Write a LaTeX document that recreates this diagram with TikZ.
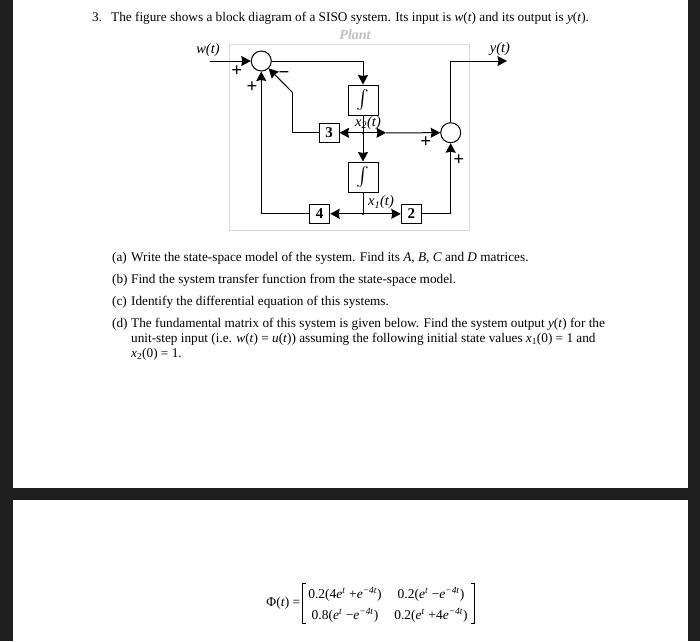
\documentclass[tikz,border=0pt]{standalone}
\usepackage{amsmath, amssymb}
\usepackage{fontspec}
\setmainfont{Liberation Serif}
\usepackage{tikz}
\usetikzlibrary{calc, arrows.meta, positioning}

\newcommand{\partlabel}[1]{\makebox[19pt][l]{#1}}
\newcommand{\ee}[1]{\textit{e}\textsuperscript{\textit{#1}}}

\tikzset{
    sumnode/.style={draw, circle, line width=1pt, minimum size=20pt, inner sep=0pt},
    gainbox/.style={draw, line width=1pt, fill=white, minimum width=20pt, minimum height=19pt, inner sep=0pt, font=\fontsize{15}{15}\selectfont\bfseries},
    intbox/.style={draw, line width=1pt, fill=white, minimum width=30pt, minimum height=30pt, inner sep=0pt},
    sigmark/.style={font=\fontsize{19}{19}\selectfont\bfseries, inner sep=0pt},
    siglabel/.style={font=\fontsize{14.5}{14.5}\selectfont\itshape, inner sep=0pt},
    bodyline/.style={anchor=base west, inner sep=0pt, font=\fontsize{13.25}{14}\selectfont},
    matentry/.style={inner sep=0pt, font=\fontsize{13.5}{14}\selectfont},
    flow/.style={line width=1pt, -{Stealth[length=9.5pt, width=10pt, inset=1pt]}},
    wire/.style={line width=1pt}
}

\begin{document}
\begin{tikzpicture}[x=1pt, y=-1pt]

    % =================================================================
    % 1. PAGE AND BLACK BANDS
    % =================================================================
    \useasboundingbox (0,0) rectangle (700,641);
    \fill[black!88] (0,0) rectangle (13,641);
    \fill[black!88] (688,0) rectangle (700,641);
    \fill[black!88] (0,488) rectangle (700,500);

    % =================================================================
    % 2. QUESTION TEXT
    % =================================================================
    \node[bodyline] (qnum) at (92,21) {3.};
    \node[bodyline] (qtext) at (111,21) {The figure shows a block diagram of a SISO system. Its input is \textit{w}(\textit{t}) and its output is \textit{y}(\textit{t}).};

    \node[bodyline] (parta) at (112,261) {\partlabel{(a)}Write the state-space model of the system. Find its \textit{A}, \textit{B}, \textit{C} and \textit{D} matrices.};
    \node[bodyline] (partb) at (112,283) {\partlabel{(b)}Find the system transfer function from the state-space model.};
    \node[bodyline] (partc) at (112,305) {\partlabel{(c)}Identify the differential equation of this systems.};
    \node[bodyline] (partd) at (112,327) {\partlabel{(d)}The fundamental matrix of this system is given below. Find the system output \textit{y}(\textit{t}) for the};
    \node[bodyline] (partdb) at (131,342) {unit-step input (i.e. \textit{w}(\textit{t}) = \textit{u}(\textit{t})) assuming the following initial state values \textit{x}\textsubscript{1}(0) = 1 and};
    \node[bodyline] (partdc) at (131,357) {\textit{x}\textsubscript{2}(0) = 1.};

    % =================================================================
    % 3. PLANT FRAME
    % =================================================================
    \draw[black!15] (228.7,44.3) rectangle (469.3,230);
    \node[font=\fontsize{14}{14}\selectfont\itshape\bfseries, text=black!25, inner sep=0pt] (plant) at (355,35) {Plant};

    % =================================================================
    % 4. BLOCKS
    % =================================================================
    \node[sumnode] (sumin) at (261.3,61) {};
    \node[sumnode] (sumout) at (450.7,132.7) {};
    \node[intbox] (intb) at (363,100) {\scalebox{1.9}{$\int$}};
    \node[intbox] (inta) at (363,177) {\scalebox{1.9}{$\int$}};
    \node[gainbox] (gainc) at (329,132.8) {3};
    \node[gainbox] (gaind) at (319.7,213.8) {4};
    \node[gainbox] (gainb) at (411.3,213.8) {2};

    % Junctions and free ends
    \coordinate (wstart) at (210,61);
    \coordinate (yend) at (507,61);
    \coordinate (ycorner) at (450.7,61);
    \coordinate (jtop) at (363,132.8);
    \coordinate (jbot) at (363,213.8);
    \coordinate (jright) at (386,132.8);
    \coordinate (fbcorner) at (292.7,132.8);
    \coordinate (fbbend) at (292.7,92.7);

    % =================================================================
    % 5. CONNECTORS
    % =================================================================
    \draw[flow] (wstart) -- (sumin);
    \draw[flow] (sumin) -| (intb);
    \draw[wire] (intb) -- (jtop);
    \draw[flow] (jtop) -- (gainc);
    \draw[flow] (jtop) -- (jright);
    \draw[flow] (jright) -- (sumout);
    \draw[flow] (jtop) -- (inta);
    \draw[wire] (inta) -- (jbot);
    \draw[flow] (jbot) -- (gaind);
    \draw[flow] (jbot) -- (gainb);
    \draw[wire] (gainc) -- (fbcorner) -- (fbbend);
    \draw[flow] (fbbend) -- (sumin);
    \draw[flow] (gaind) -| (sumin);
    \draw[flow] (gainb) -| (sumout);
    \draw[wire] (sumout) -- (ycorner);
    \draw[flow] (ycorner) -- (yend);
    \fill (jtop) circle (1.3pt);
    \fill (jbot) circle (1.3pt);

    % =================================================================
    % 6. LABELS
    % =================================================================
    \node[siglabel] (wlabel) at (208,50) {w(t)};
    \node[siglabel] (ylabel) at (500,49) {y(t)};
    \node[siglabel] (xblabel) at (368,123) {x\textsubscript{2}(t)};
    \node[siglabel] (xalabel) at (381,202.5) {x\textsubscript{1}(t)};

    \node[sigmark] (pa) at (236.7,71.5) {+};
    \node[sigmark] (pb) at (252,87.5) {+};
    \node[sigmark] (mc) at (284,75) {\textminus};
    \node[sigmark] (pd) at (425.7,142.5) {+};
    \node[sigmark] (pe) at (458.7,160.5) {+};

    % =================================================================
    % 7. FUNDAMENTAL MATRIX
    % =================================================================
    \node[matentry, anchor=east] (phi) at (300.5,603.5) {Φ(\textit{t}) =};
    \node[matentry] (maa) at (345,594) {0.2(4\ee{t} +\ee{−4t})};
    \node[matentry] (mab) at (431,594) {0.2(\ee{t} −\ee{−4t})};
    \node[matentry] (mba) at (345,615.5) {0.8(\ee{t} −\ee{−4t})};
    \node[matentry] (mbb) at (431,615.5) {0.2(\ee{t} +4\ee{−4t})};
    \draw[line width=0.8pt] (306,583.5) -- (302.5,583.5) -- (302.5,623) -- (306,623);
    \draw[line width=0.8pt] (471,583.5) -- (474.5,583.5) -- (474.5,623) -- (471,623);

\end{tikzpicture}
\end{document}
